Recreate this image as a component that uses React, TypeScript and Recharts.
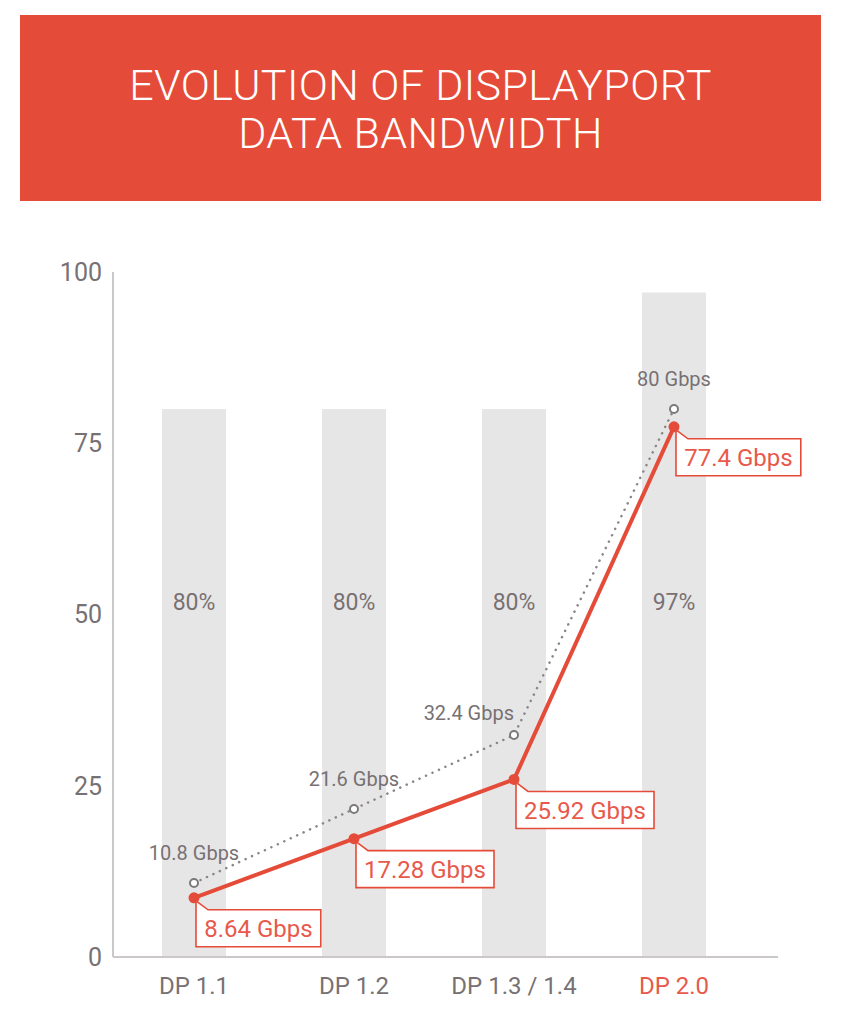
import {
  ComposedChart,
  Bar,
  Line,
  XAxis,
  YAxis,
  LabelList,
} from "recharts";

const versions = ["DP 1.1", "DP 1.2", "DP 1.3 / 1.4", "DP 2.0"];
const efficiency = [80, 80, 80, 97];
const maxRate = [10.8, 21.6, 32.4, 80];
const dataRate = [8.64, 17.28, 25.92, 77.4];
const yTicks = [0, 25, 50, 75, 100];

const RED = "#e54b39";
const LABEL_RED = "#e8594b";
const GRAY_TEXT = "#777173";
const AXIS = "#cbc7cb";
const BAR = "#e7e6e6";
const FONT = "Roboto, sans-serif";

const data = versions.map((v, i) => ({
  name: v,
  eff: efficiency[i],
  max: maxRate[i],
  rate: dataRate[i],
}));

const XTick = (props: any) => {
  const { x, y, payload } = props;
  const isNew = payload.value === "DP 2.0";
  return (
    <text
      x={x}
      y={y + 12}
      dy="0.71em"
      textAnchor="middle"
      fill={isNew ? LABEL_RED : GRAY_TEXT}
      fontSize={24}
      fontFamily={FONT}
    >
      {payload.value}
    </text>
  );
};

const PercentLabel = (props: any) => {
  const { x, y, width, height, value } = props;
  return (
    <text
      x={x + width / 2}
      y={y + height - 355}
      dy="0.35em"
      textAnchor="middle"
      fill={GRAY_TEXT}
      fontSize={23}
      fontFamily={FONT}
    >
      {value}%
    </text>
  );
};

const MaxLabel = (props: any) => {
  const { x, y, value, index } = props;
  // the 32.4 label sits left of its point so it clears the line
  const shifted = index === 2;
  return (
    <text
      x={x}
      y={shifted ? y - 22 : y - 30}
      dy="0.35em"
      textAnchor={shifted ? "end" : "middle"}
      fill={GRAY_TEXT}
      fontSize={20}
      fontFamily={FONT}
    >
      {value} Gbps
    </text>
  );
};

const RateLabel = (props: any) => {
  const { x, y, value } = props;
  const text = `${value} Gbps`;
  const w = text.length * 13.2 + 6;
  const h = 37;
  const bx = x + 2;
  const top = y + 12;
  const d = `M${bx},${y + 3} L${bx},${top + h} L${bx + w},${top + h} L${bx + w},${top} L${bx + 12},${top} Z`;
  return (
    <g>
      <path d={d} fill="#fff" stroke={RED} strokeWidth={1.6} />
      <text
        x={bx + w / 2}
        y={top + h / 2}
        dy="0.36em"
        textAnchor="middle"
        fill={LABEL_RED}
        fontSize={24}
        fontFamily={FONT}
      >
        {text}
      </text>
    </g>
  );
};

const OpenDot = (props: any) => {
  const { cx, cy } = props;
  return <circle cx={cx} cy={cy} r={4} fill="#fff" stroke="#7d7879" strokeWidth={2} />;
};

const RedDot = (props: any) => {
  const { cx, cy } = props;
  return <circle cx={cx} cy={cy} r={5.5} fill={RED} stroke="none" />;
};

export default function App() {
  return (
    <div
      style={{
        position: "absolute",
        left: 0,
        top: 0,
        width: 842,
        height: 1024,
        background: "#fff",
        fontFamily: FONT,
      }}
    >
      <div
        style={{
          position: "absolute",
          left: 20,
          top: 15,
          width: 801,
          height: 186,
          background: RED,
          color: "#fff",
          textAlign: "center",
          fontWeight: 300,
          fontSize: 43,
          lineHeight: "48px",
          paddingTop: 46,
          boxSizing: "border-box",
          letterSpacing: 0.4,
        }}
      >
        EVOLUTION OF DISPLAYPORT
        <br />
        DATA BANDWIDTH
      </div>
      <div style={{ position: "absolute", left: 0, top: 0 }}>
        <ComposedChart
          width={842}
          height={1024}
          data={data}
          margin={{ top: 272, right: 64, bottom: 27, left: 53 }}
        >
          <XAxis
            dataKey="name"
            height={40}
            padding={{ left: 1, right: 24 }}
            axisLine={{ stroke: AXIS, strokeWidth: 2 }}
            tickLine={false}
            tick={<XTick />}
            interval={0}
          />
          <YAxis
            width={60}
            domain={[0, 100]}
            ticks={yTicks}
            axisLine={{ stroke: AXIS, strokeWidth: 2 }}
            tickLine={false}
            tickSize={0}
            tickMargin={11}
            tick={{ fill: GRAY_TEXT, fontSize: 25, fontFamily: FONT }}
          />
          <Bar dataKey="eff" fill={BAR} barSize={64} isAnimationActive={false}>
            <LabelList dataKey="eff" content={<PercentLabel />} />
          </Bar>
          <Line
            dataKey="max"
            stroke="#8a8586"
            strokeWidth={2.5}
            strokeDasharray="0.1 7"
            strokeLinecap="round"
            dot={<OpenDot />}
            activeDot={false}
            isAnimationActive={false}
          >
            <LabelList dataKey="max" content={<MaxLabel />} />
          </Line>
          <Line
            dataKey="rate"
            stroke={RED}
            strokeWidth={4}
            dot={<RedDot />}
            activeDot={false}
            isAnimationActive={false}
          >
            <LabelList dataKey="rate" content={<RateLabel />} />
          </Line>
        </ComposedChart>
      </div>
    </div>
  );
}
